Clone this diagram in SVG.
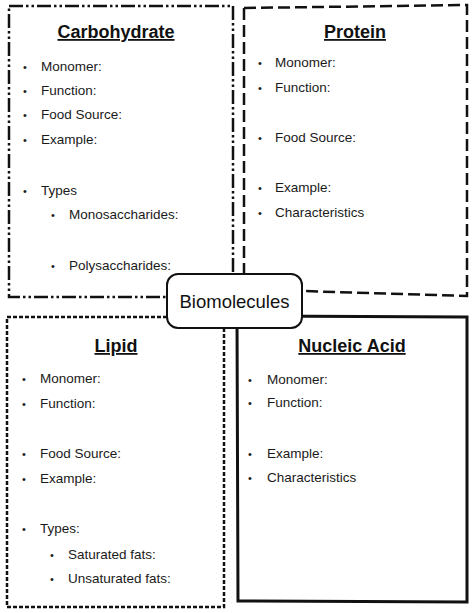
<svg xmlns="http://www.w3.org/2000/svg" width="474" height="613" viewBox="0 0 474 613">
<style>
.t{font-family:"Liberation Sans",Arial,sans-serif;font-size:18px;font-weight:bold;text-anchor:middle;text-decoration:underline;fill:#111}
.b{font-family:"Liberation Sans",Arial,sans-serif;font-size:13.5px;fill:#1a1a1a}
.d{font-size:11px}
.box{fill:none;stroke:#111;stroke-width:2.5}
.carb{stroke-dasharray:14 3 2.5 3 2.5 3}
.prot{stroke-dasharray:12 5}
.lip{stroke-dasharray:4 2}
.nuc{stroke-width:3}
</style>
<rect width="474" height="613" fill="#fff"/>
<g id="carbohydrate">
<rect class="box carb" x="9" y="6" width="224" height="291"/>
<text class="t" x="116" y="38">Carbohydrate</text>
<g class="b">
<text class="d" x="23" y="71">•</text><text x="41" y="71">Monomer:</text>
<text class="d" x="23" y="95">•</text><text x="41" y="95">Function:</text>
<text class="d" x="23" y="119">•</text><text x="41" y="119">Food Source:</text>
<text class="d" x="23" y="144">•</text><text x="41" y="144">Example:</text>
<text class="d" x="23" y="195">•</text><text x="41" y="195">Types</text>
<text class="d" x="51" y="219">•</text><text x="69" y="219">Monosaccharides:</text>
<text class="d" x="51" y="270">•</text><text x="69" y="270">Polysaccharides:</text>
</g>
</g>
<g id="protein">
<path class="box prot" d="M244,8 L467,5 L467,296 L302,291 M244,8 L244,274"/>
<text class="t" x="355" y="38">Protein</text>
<g class="b">
<text class="d" x="258" y="67">•</text><text x="275" y="67">Monomer:</text>
<text class="d" x="258" y="92">•</text><text x="275" y="92">Function:</text>
<text class="d" x="258" y="142">•</text><text x="275" y="142">Food Source:</text>
<text class="d" x="258" y="192">•</text><text x="275" y="192">Example:</text>
<text class="d" x="258" y="217">•</text><text x="275" y="217">Characteristics</text>
</g>
</g>
<g id="lipid">
<rect class="box lip" x="7" y="317" width="217" height="290"/>
<text class="t" x="116" y="352">Lipid</text>
<g class="b">
<text class="d" x="22" y="383">•</text><text x="40" y="383">Monomer:</text>
<text class="d" x="22" y="408">•</text><text x="40" y="408">Function:</text>
<text class="d" x="22" y="458">•</text><text x="40" y="458">Food Source:</text>
<text class="d" x="22" y="483">•</text><text x="40" y="483">Example:</text>
<text class="d" x="22" y="533">•</text><text x="40" y="533">Types:</text>
<text class="d" x="50" y="559">•</text><text x="68" y="559">Saturated fats:</text>
<text class="d" x="50" y="583">•</text><text x="68" y="583">Unsaturated fats:</text>
</g>
</g>
<g id="nucleic-acid">
<path class="box nuc" d="M237,316 L467,317 L467,602 L238,601 Z"/>
<text class="t" x="352" y="352">Nucleic Acid</text>
<g class="b">
<text class="d" x="248" y="384">•</text><text x="267" y="384">Monomer:</text>
<text class="d" x="248" y="407">•</text><text x="267" y="407">Function:</text>
<text class="d" x="248" y="458">•</text><text x="267" y="458">Example:</text>
<text class="d" x="248" y="482">•</text><text x="267" y="482">Characteristics</text>
</g>
</g>
<g id="connectors"></g>
<g id="biomolecules">
<rect x="167" y="274" width="135" height="54" rx="11" fill="#fff" stroke="#111" stroke-width="2"/>
<text x="234.5" y="308" font-family="Liberation Sans, Arial, sans-serif" font-size="18.5" text-anchor="middle" fill="#111">Biomolecules</text>
</g>
</svg>
